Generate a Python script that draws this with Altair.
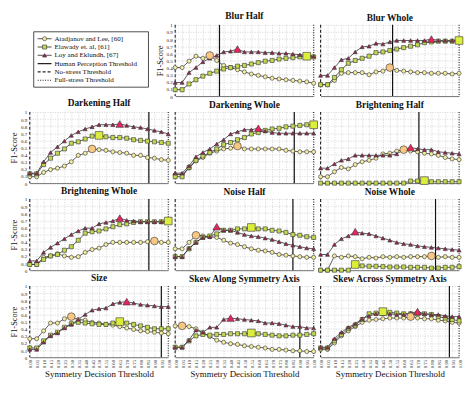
import altair as alt
import pandas as pd

X_THRESH = [0.00, 0.05, 0.10, 0.15, 0.20, 0.25, 0.30, 0.35, 0.40, 0.45, 0.50,
            0.55, 0.60, 0.65, 0.70, 0.75, 0.80, 0.85, 0.90, 0.95, 1.00]
Y_TICKS = [0, 0.1, 0.2, 0.3, 0.4, 0.5, 0.6, 0.7, 0.8, 0.9, 1.0]

METHODS = ["Atadjanov and Lee, [60]", "Elawady et. al, [61]", "Loy and Eklundh, [67]"]
THRESH_LABELS = ["Human Perception Threshold", "No-stress Threshold", "Full-stress Threshold"]

PANELS = ["Blur Half", "Blur Whole", "Darkening Half", "Darkening Whole",
          "Brightening Half", "Brightening Whole", "Noise Half", "Noise Whole",
          "Size", "Skew Along Symmetry Axis", "Skew Across Symmetry Axis"]

BLUR_HALF_ATA = [0.40,0.40,0.49,0.56,0.53,0.57,0.50,0.43,0.40,0.37,0.34,0.31,0.29,0.27,0.25,0.24,0.23,0.22,0.21,0.20,0.18]
BLUR_HALF_ELA = [0.09,0.09,0.17,0.23,0.28,0.32,0.35,0.38,0.40,0.42,0.43,0.45,0.47,0.49,0.50,0.52,0.53,0.54,0.55,0.56,0.55]
BLUR_HALF_LOY = [0.19,0.19,0.33,0.40,0.48,0.53,0.57,0.62,0.63,0.66,0.62,0.62,0.62,0.61,0.61,0.60,0.60,0.59,0.58,0.57,0.56]

BLUR_WHOLE_ATA = [0.16,0.16,0.22,0.32,0.33,0.33,0.33,0.30,0.34,0.35,0.40,0.36,0.35,0.34,0.33,0.33,0.32,0.32,0.32,0.31,0.32]
BLUR_WHOLE_ELA = [0.16,0.16,0.26,0.37,0.46,0.50,0.53,0.56,0.61,0.62,0.64,0.66,0.68,0.70,0.72,0.75,0.76,0.77,0.77,0.77,0.78]
BLUR_WHOLE_LOY = [0.29,0.29,0.40,0.51,0.53,0.62,0.69,0.70,0.74,0.73,0.76,0.78,0.78,0.78,0.78,0.78,0.80,0.78,0.78,0.78,0.78]

DARK_HALF_ATA = [0.09,0.09,0.15,0.19,0.21,0.24,0.30,0.39,0.42,0.48,0.47,0.46,0.44,0.43,0.42,0.39,0.39,0.36,0.35,0.33,0.32]
DARK_HALF_ELA = [0.13,0.13,0.26,0.35,0.42,0.48,0.56,0.58,0.62,0.66,0.67,0.65,0.64,0.64,0.63,0.61,0.60,0.59,0.58,0.57,0.56]
DARK_HALF_LOY = [0.14,0.14,0.30,0.43,0.51,0.59,0.67,0.72,0.76,0.79,0.82,0.82,0.82,0.83,0.81,0.79,0.78,0.76,0.74,0.72,0.69]

DARK_WHOLE_ATA = [0.12,0.12,0.21,0.31,0.36,0.42,0.45,0.48,0.49,0.52,0.48,0.48,0.48,0.48,0.48,0.48,0.46,0.45,0.44,0.44,0.44]
DARK_WHOLE_ELA = [0.09,0.09,0.22,0.32,0.38,0.43,0.48,0.54,0.57,0.61,0.64,0.69,0.71,0.74,0.76,0.77,0.79,0.80,0.81,0.82,0.82]
DARK_WHOLE_LOY = [0.14,0.14,0.24,0.37,0.43,0.48,0.55,0.61,0.69,0.72,0.75,0.75,0.77,0.73,0.71,0.70,0.70,0.70,0.70,0.70,0.70]

BRIGHT_HALF_ATA = [0.09,0.09,0.16,0.22,0.20,0.26,0.30,0.32,0.35,0.41,0.42,0.45,0.47,0.45,0.44,0.42,0.41,0.39,0.36,0.34,0.33]
BRIGHT_HALF_ELA = [0.0,0.0,0.0,0.0,0.0,0.0,0.0,0.0,0.0,0.0,0.0,0.0,0.0,0.03,0.03,0.035,0.02,0.02,0.02,0.02,0.02]
BRIGHT_HALF_LOY = [0.21,0.21,0.27,0.32,0.34,0.39,0.39,0.39,0.39,0.39,0.39,0.41,0.47,0.50,0.48,0.47,0.47,0.44,0.43,0.42,0.41]

BRIGHT_WHOLE_ATA = [0.08,0.08,0.18,0.20,0.23,0.20,0.18,0.19,0.25,0.29,0.31,0.36,0.39,0.39,0.39,0.39,0.39,0.40,0.41,0.39,0.39]
BRIGHT_WHOLE_ELA = [0.08,0.08,0.15,0.20,0.22,0.28,0.33,0.42,0.52,0.54,0.55,0.58,0.61,0.64,0.65,0.67,0.68,0.68,0.68,0.68,0.69]
BRIGHT_WHOLE_LOY = [0.13,0.13,0.25,0.32,0.38,0.44,0.50,0.55,0.59,0.59,0.65,0.67,0.69,0.73,0.70,0.69,0.68,0.68,0.68,0.68,0.68]

NOISE_HALF_ATA = [0.30,0.30,0.39,0.49,0.48,0.47,0.46,0.42,0.38,0.36,0.33,0.30,0.28,0.27,0.25,0.22,0.21,0.20,0.19,0.18,0.18]
NOISE_HALF_ELA = [0.19,0.19,0.30,0.39,0.46,0.48,0.51,0.56,0.56,0.58,0.58,0.60,0.58,0.58,0.56,0.55,0.53,0.50,0.49,0.47,0.46]
NOISE_HALF_LOY = [0.19,0.19,0.31,0.39,0.46,0.47,0.61,0.56,0.56,0.53,0.50,0.48,0.47,0.45,0.43,0.40,0.37,0.35,0.33,0.31,0.30]

NOISE_WHOLE_ATA = [0.0,0.0,0.20,0.18,0.20,0.19,0.16,0.18,0.17,0.19,0.18,0.19,0.18,0.19,0.19,0.19,0.20,0.18,0.19,0.18,0.18]
NOISE_WHOLE_ELA = [0.0,0.0,0.0,0.0,0.0,0.08,0.06,0.055,0.055,0.05,0.045,0.045,0.045,0.04,0.04,0.04,0.03,0.03,0.04,0.04,0.05]
NOISE_WHOLE_LOY = [0.22,0.22,0.36,0.44,0.48,0.54,0.52,0.51,0.48,0.45,0.42,0.39,0.37,0.36,0.34,0.33,0.32,0.31,0.30,0.29,0.28]

SIZE_ATA = [0.26,0.26,0.37,0.48,0.48,0.54,0.57,0.53,0.52,0.49,0.48,0.46,0.45,0.43,0.41,0.39,0.37,0.36,0.35,0.34,0.33]
SIZE_ELA = [0.13,0.13,0.23,0.31,0.35,0.42,0.47,0.49,0.48,0.47,0.46,0.46,0.48,0.50,0.48,0.46,0.44,0.42,0.40,0.40,0.40]
SIZE_LOY = [0.11,0.11,0.21,0.30,0.34,0.41,0.46,0.53,0.60,0.66,0.68,0.69,0.75,0.77,0.78,0.76,0.74,0.73,0.72,0.71,0.71]

SKEW_ALONG_ATA = [0.44,0.44,0.43,0.40,0.35,0.29,0.24,0.21,0.19,0.18,0.16,0.15,0.14,0.13,0.11,0.11,0.10,0.09,0.09,0.08,0.08]
SKEW_ALONG_ELA = [0.14,0.14,0.23,0.30,0.32,0.31,0.32,0.32,0.33,0.33,0.33,0.34,0.33,0.32,0.31,0.30,0.30,0.31,0.31,0.32,0.33]
SKEW_ALONG_LOY = [0.14,0.14,0.24,0.38,0.35,0.42,0.42,0.53,0.55,0.54,0.53,0.52,0.51,0.48,0.48,0.47,0.45,0.43,0.43,0.41,0.41]

SKEW_ACROSS_ATA = [0.11,0.11,0.20,0.30,0.37,0.43,0.49,0.52,0.53,0.54,0.55,0.55,0.55,0.57,0.55,0.54,0.54,0.52,0.51,0.49,0.48]
SKEW_ACROSS_ELA = [0.13,0.13,0.23,0.32,0.40,0.45,0.53,0.61,0.62,0.64,0.63,0.62,0.61,0.61,0.61,0.61,0.60,0.57,0.55,0.53,0.51]
SKEW_ACROSS_LOY = [0.14,0.14,0.26,0.35,0.42,0.47,0.54,0.58,0.61,0.61,0.61,0.60,0.60,0.62,0.64,0.61,0.60,0.60,0.58,0.57,0.57]

HUMAN_THRESHOLD = [0.32, 0.52, 0.86, 0.86, 0.71, 0.86, 0.85, 0.83, 0.95, 0.90, 0.93]
NO_STRESS = 0.0
FULL_STRESS = 1.0

BEST_ATA = [0.25, 0.50, 0.45, 0.45, 0.60, 0.90, 0.15, 0.80, 0.30, 0.05, 0.65]
BEST_ELA = [0.95, 1.00, 0.50, 1.00, 0.75, 1.00, 0.55, 0.25, 0.65, 0.55, 0.45]
BEST_LOY = [0.45, 0.80, 0.65, 0.60, 0.65, 0.65, 0.30, 0.25, 0.70, 0.40, 0.70]

SERIES = [
    (BLUR_HALF_ATA, BLUR_HALF_ELA, BLUR_HALF_LOY),
    (BLUR_WHOLE_ATA, BLUR_WHOLE_ELA, BLUR_WHOLE_LOY),
    (DARK_HALF_ATA, DARK_HALF_ELA, DARK_HALF_LOY),
    (DARK_WHOLE_ATA, DARK_WHOLE_ELA, DARK_WHOLE_LOY),
    (BRIGHT_HALF_ATA, BRIGHT_HALF_ELA, BRIGHT_HALF_LOY),
    (BRIGHT_WHOLE_ATA, BRIGHT_WHOLE_ELA, BRIGHT_WHOLE_LOY),
    (NOISE_HALF_ATA, NOISE_HALF_ELA, NOISE_HALF_LOY),
    (NOISE_WHOLE_ATA, NOISE_WHOLE_ELA, NOISE_WHOLE_LOY),
    (SIZE_ATA, SIZE_ELA, SIZE_LOY),
    (SKEW_ALONG_ATA, SKEW_ALONG_ELA, SKEW_ALONG_LOY),
    (SKEW_ACROSS_ATA, SKEW_ACROSS_ELA, SKEW_ACROSS_LOY),
]
BESTS = [BEST_ATA, BEST_ELA, BEST_LOY]

FILL_DOMAIN = [METHODS[0], METHODS[0] + "*", METHODS[1], METHODS[1] + "*", METHODS[2], METHODS[2] + "*"]
FILL_RANGE = ["#f4ec9f", "#f9c784", "#c2d94e", "#dcee3c", "#9e2750", "#e8245f"]
SHAPE_RANGE = ["circle", "square", "triangle-up"]

SERIF = "Liberation Serif"
W, H = 140, 72

rows = []
for p, name in enumerate(PANELS):
    for m, method in enumerate(METHODS):
        vals = SERIES[p][m]
        for i, xv in enumerate(X_THRESH):
            best = abs(xv - BESTS[m][p]) < 1e-9
            rows.append({"panel": name, "method": method, "mo": m, "x": xv, "y": vals[i],
                         "best": int(best), "fk": method + ("*" if best else "")})
df = pd.DataFrame(rows)

fill_enc = alt.Fill("fk:N", scale=alt.Scale(domain=FILL_DOMAIN, range=FILL_RANGE), legend=None)
shape_enc = alt.Shape("method:N", scale=alt.Scale(domain=METHODS, range=SHAPE_RANGE), legend=None)


def make_panel(k, name):
    col = (k + 1) % 3
    row = (k + 1) // 3
    show_y = (col == 0) or k == 0
    show_x = row == 3
    d = df[df.panel == name].sort_values(["best", "mo", "x"])

    xkw = dict(values=X_THRESH, format=".2f", labelAngle=-90, labels=show_x, ticks=False,
               grid=True, domain=True, domainColor="#555", domainWidth=0.8,
               labelFontSize=5, labelPadding=2, labelBaseline="middle", labelAlign="right",
               titleFontSize=9, titlePadding=2)
    ykw = dict(values=Y_TICKS, format="~g", labels=show_y, ticks=False, grid=True, domain=False,
               labelFontSize=5, labelPadding=3, titleFontSize=8.5, titlePadding=2)
    x = alt.X("x:Q", scale=alt.Scale(domain=[0, 1], nice=False, zero=False),
              axis=alt.Axis(**xkw), title=("Symmetry Decision Threshold" if show_x else None))
    y = alt.Y("y:Q", scale=alt.Scale(domain=[0, 1], nice=False),
              axis=alt.Axis(**ykw), title=("F1-Score" if show_y else None))

    base = alt.Chart(d)
    lines = base.mark_line(color="#333333", strokeWidth=0.8).encode(
        x=x, y=y, detail="method:N", order="x:Q")
    pts = base.mark_point(filled=True, stroke="#333333", strokeWidth=0.6, opacity=1).encode(
        x=x, y=y, fill=fill_enc, shape=shape_enc,
        size=alt.condition("datum.best == 1", alt.value(60), alt.value(17)))

    human = alt.Chart(pd.DataFrame({"x": [HUMAN_THRESHOLD[k]]})).mark_rule(
        color="#111", strokeWidth=1.2).encode(x=x)
    nostress = alt.Chart(pd.DataFrame({"x": [NO_STRESS]})).mark_rule(
        color="#222", strokeWidth=1.1, strokeDash=[3, 2]).encode(x=x)
    fullstress = alt.Chart(pd.DataFrame({"x": [FULL_STRESS]})).mark_rule(
        color="#222", strokeWidth=1.1, strokeDash=[1, 1.5]).encode(x=x)

    return alt.layer(nostress, fullstress, human, lines, pts).properties(
        width=W, height=H, title=alt.TitleParams(name))


# legend panel
leg_df = pd.DataFrame({
    "i": list(range(6)),
    "label": METHODS + THRESH_LABELS,
    "dash": ["solid", "solid", "solid", "solid", "dashed", "dotted"],
    "w": [0.9, 0.9, 0.9, 1.3, 1.3, 1.2],
    "method": METHODS + ["", "", ""],
    "fk": METHODS + ["", "", ""],
})
ly = alt.Y("i:Q", scale=alt.Scale(domain=[0, 5], range=[14, 56]), axis=None)
box = alt.Chart(pd.DataFrame({"a": [0]})).mark_rect(fill="white", stroke="#222", strokeWidth=0.8).encode(
    x=alt.value(4), x2=alt.value(120), y=alt.value(7), y2=alt.value(63))
lrule = alt.Chart(leg_df).mark_rule(color="#222").encode(
    x=alt.value(8), x2=alt.value(22), y=ly,
    strokeDash=alt.StrokeDash("dash:N", scale=alt.Scale(domain=["solid", "dashed", "dotted"],
                                                          range=[[1, 0], [3, 2], [1, 1.5]]), legend=None),
    strokeWidth=alt.StrokeWidth("w:Q", scale=None))
lpts = alt.Chart(leg_df.iloc[:3]).mark_point(filled=True, stroke="#333333", strokeWidth=0.6, opacity=1).encode(
    x=alt.value(15), y=ly, fill=fill_enc, shape=shape_enc, size=alt.value(17))
ltext = alt.Chart(leg_df).mark_text(align="left", baseline="middle", font=SERIF, fontSize=7.1, color="#111").encode(
    x=alt.value(25), y=ly, text="label:N")
legend_panel = alt.layer(box, lrule, lpts, ltext).properties(width=W, height=H)

charts = [legend_panel] + [make_panel(k, n) for k, n in enumerate(PANELS)]

chart = alt.concat(*charts, columns=3, spacing={"row": 16, "column": 7}, bounds="flush").properties(
    padding={"left": 1, "top": 1, "right": 1, "bottom": 1}
).configure_view(stroke=None).configure_axis(
    gridColor="#c4c4c4", gridDash=[1, 1.5], gridWidth=0.7,
    labelFont=SERIF, titleFont=SERIF, labelColor="#111", titleColor="#111", titleFontWeight="normal"
).configure_title(font=SERIF, fontSize=9.5, fontWeight="bold", offset=2, color="#111")

chart.save("out.html", embed_options={"renderer": "svg", "actions": False})
